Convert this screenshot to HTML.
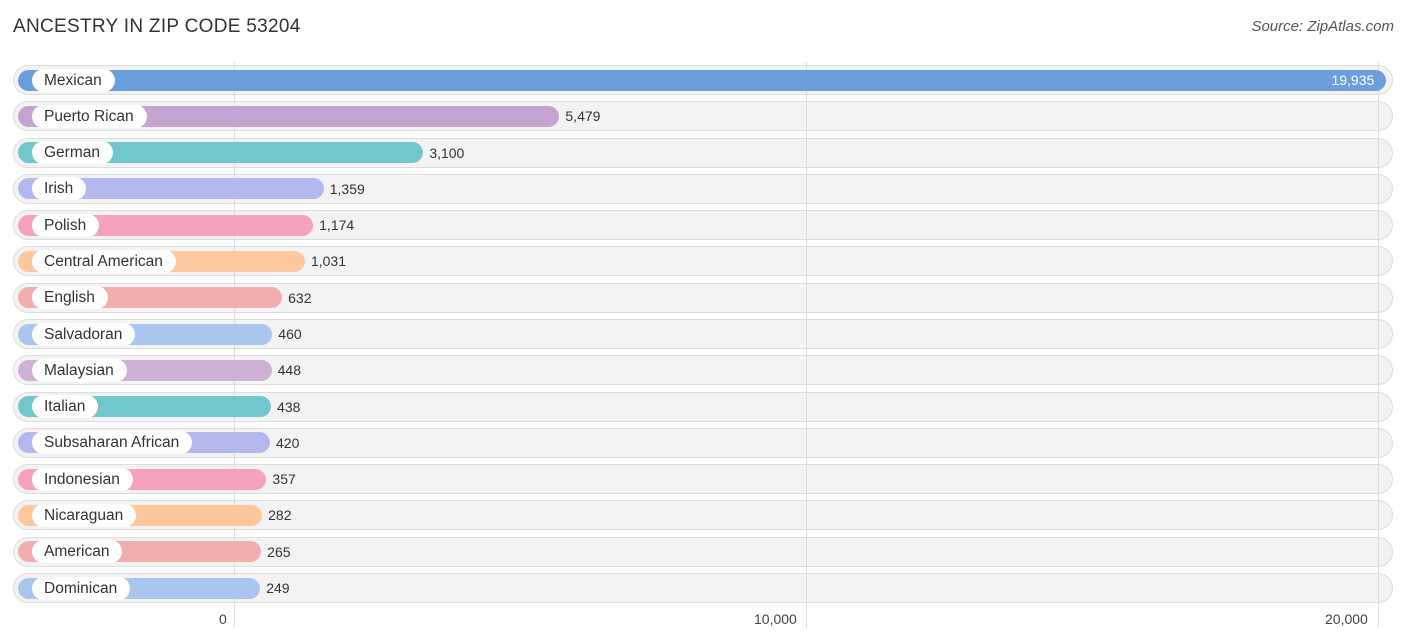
<!DOCTYPE html><html><head><style>
body{margin:0;width:1406px;height:644px;background:#fff;font-family:"Liberation Sans",sans-serif;position:relative;overflow:hidden}
.t{position:absolute;left:13px;top:16px;font-size:19px;color:#333;letter-spacing:0.3px}
.s{position:absolute;right:12px;top:18px;font-size:15px;color:#555;font-style:italic}
.g{position:absolute;top:62px;height:566px;width:1px;background:#ddd}
.row{position:absolute;left:13px;width:1378px;height:28px;border:1px solid #ddd;border-radius:15px;background:#f3f3f3}
.bar{position:absolute;left:18px;height:21px;border-radius:11px}
.lb{position:absolute;left:32px;height:23px;line-height:23px;padding:0 13px 0 12px;background:#fff;border-radius:12px;font-size:15.5px;color:#333}
.v{position:absolute;font-size:14px;color:#333;line-height:20px}
.ax{position:absolute;top:611px;font-size:14px;color:#444}
</style></head><body>
<div class="t">ANCESTRY IN ZIP CODE 53204</div>
<div class="s">Source: ZipAtlas.com</div>
<div id="c"></div>
<div class="ax" style="left:219px">0</div>
<div class="ax" style="left:754px">10,000</div>
<div class="ax" style="left:1325px">20,000</div>
<script>
var d=[["Mexican",19935,"#6a9fdc"],["Puerto Rican",5479,"#c5a3cf"],["German",3100,"#72c7cf"],["Irish",1359,"#b3b9ee"],["Polish",1174,"#f6a2bf"],["Central American",1031,"#fdc89e"],["English",632,"#f0aeae"],["Salvadoran",460,"#a9c6ee"],["Malaysian",448,"#cfb0d6"],["Italian",438,"#72c7cf"],["Subsaharan African",420,"#b3b9ee"],["Indonesian",357,"#f6a2bf"],["Nicaraguan",282,"#fdc89e"],["American",265,"#f0aeae"],["Dominican",249,"#a9c6ee"]];
var h='';
d.forEach(function(r,i){var c=80+i*36.29;h+='<div class="row" style="top:'+(c-15)+'px"></div>';});
h+='<div class="g" style="left:234px"></div><div class="g" style="left:806px"></div><div class="g" style="left:1378px"></div>';
d.forEach(function(r,i){var c=80+i*36.29;var e=234+r[1]*0.0572+12;
h+='<div class="bar" style="top:'+(c-10.5)+'px;width:'+(e-18)+'px;background:'+r[2]+'"></div>';
h+='<div class="lb" style="top:'+(c-11.5)+'px">'+r[0]+'</div>';
var s=r[1].toLocaleString('en-US');
if(i==0)h+='<div class="v" style="top:'+(c-10)+'px;left:'+(e-60)+'px;width:48px;text-align:right;color:#fff">'+s+'</div>';
else h+='<div class="v" style="top:'+(c-10)+'px;left:'+(e+6)+'px">'+s+'</div>';});
document.getElementById('c').innerHTML=h;
</script></body></html>
